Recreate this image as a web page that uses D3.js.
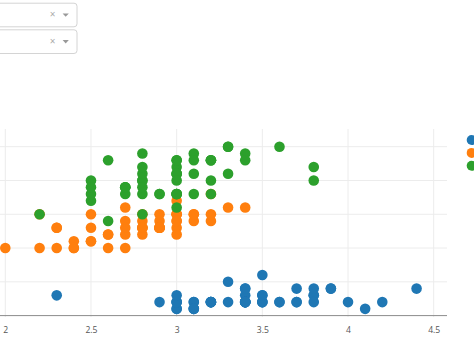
<!DOCTYPE html>
<html>
<head>
<meta charset="utf-8">
<script src="https://cdn.jsdelivr.net/npm/d3@7"></script>
<style>
  html, body { margin: 0; padding: 0; background: #fff; overflow: hidden; }
  svg { display: block; font-family: "Open Sans", Verdana, Arial, sans-serif; }
</style>
</head>
<body>
<svg id="chart" width="474" height="355"></svg>
<script>
// Iris data: x = sepal width, y = petal width
const species = ["setosa", "versicolor", "virginica"];
const colors = ["#1f77b4", "#ff7f0e", "#2ca02c"];

const setosaSepalWidth = [3.5,3.0,3.2,3.1,3.6,3.9,3.4,3.4,2.9,3.1,3.7,3.4,3.0,3.0,4.0,4.4,3.9,3.5,3.8,3.8,3.4,3.7,3.6,3.3,3.4,3.0,3.4,3.5,3.4,3.2,3.1,3.4,4.1,4.2,3.1,3.2,3.5,3.1,3.0,3.4,3.5,2.3,3.2,3.5,3.8,3.0,3.8,3.2,3.7,3.3];
const setosaPetalWidth = [0.2,0.2,0.2,0.2,0.2,0.4,0.3,0.2,0.2,0.1,0.2,0.2,0.1,0.1,0.2,0.4,0.4,0.3,0.3,0.3,0.2,0.4,0.2,0.5,0.2,0.2,0.4,0.2,0.2,0.2,0.2,0.4,0.1,0.2,0.1,0.2,0.2,0.1,0.2,0.2,0.3,0.3,0.2,0.6,0.4,0.3,0.2,0.2,0.2,0.2];

const versicolorSepalWidth = [3.2,3.2,3.1,2.3,2.8,2.8,3.3,2.4,2.9,2.7,2.0,3.0,2.2,2.9,2.9,3.1,3.0,2.7,2.2,2.5,3.2,2.8,2.5,2.8,2.9,3.0,2.8,3.0,2.9,2.6,2.4,2.4,2.7,2.7,3.0,3.4,3.1,2.3,3.0,2.5,2.6,3.0,2.6,2.3,2.7,3.0,2.9,2.9,2.5,2.8];
const versicolorPetalWidth = [1.4,1.5,1.5,1.3,1.5,1.3,1.6,1.0,1.3,1.4,1.0,1.5,1.0,1.4,1.3,1.4,1.5,1.0,1.5,1.1,1.8,1.3,1.5,1.2,1.3,1.4,1.4,1.7,1.5,1.0,1.1,1.0,1.2,1.6,1.5,1.6,1.5,1.3,1.3,1.3,1.2,1.4,1.2,1.0,1.3,1.2,1.3,1.3,1.1,1.3];

const virginicaSepalWidth = [3.3,2.7,3.0,2.9,3.0,3.0,2.5,2.9,2.5,3.6,3.2,2.7,3.0,2.5,2.8,3.2,3.0,3.8,2.6,2.2,3.2,2.8,2.8,2.7,3.3,3.2,2.8,3.0,2.8,3.0,2.8,3.8,2.8,2.8,2.6,3.0,3.4,3.1,3.0,3.1,3.1,3.1,2.7,3.2,3.3,3.0,2.5,3.0,3.4,3.0];
const virginicaPetalWidth = [2.5,1.9,2.1,1.8,2.2,2.1,1.7,1.8,1.8,2.5,2.0,1.9,2.1,2.0,2.4,2.3,1.8,2.2,2.3,1.5,2.3,2.0,2.0,1.8,2.1,1.8,1.8,1.8,2.1,1.6,1.9,2.0,2.2,1.5,1.4,2.3,2.4,1.8,1.8,2.1,2.4,2.3,1.9,2.3,2.5,2.3,1.9,2.0,2.3,1.8];

const xTicks = [2, 2.5, 3, 3.5, 4, 4.5];
const yGrid = [0.5, 1, 1.5, 2, 2.5];

const series = [
  {name: species[0], xs: setosaSepalWidth, ys: setosaPetalWidth, color: colors[0]},
  {name: species[1], xs: versicolorSepalWidth, ys: versicolorPetalWidth, color: colors[1]},
  {name: species[2], xs: virginicaSepalWidth, ys: virginicaPetalWidth, color: colors[2]}
];

const svg = d3.select("#chart");

// Plot area (left part is outside the visible window)
const plot = {left: -60, right: 447, top: 129, bottom: 317};
const x = d3.scaleLinear().domain([2, 4.5]).range([5.3, 433.7]);
const y = d3.scaleLinear().domain([0, 2.5]).range([315.6, 146.7]);

// Dropdowns
const dd = [{top: 2.7, bottom: 27.3}, {top: 29.3, bottom: 54}];
const ddg = svg.append("g");
dd.forEach(d => {
  const g = ddg.append("g");
  g.append("rect")
    .attr("x", -10).attr("y", d.top + 0.5)
    .attr("width", 87).attr("height", d.bottom - d.top - 1)
    .attr("rx", 3).attr("fill", "#fff")
    .attr("stroke", "#d4d4d4").attr("stroke-width", 1);
  const cy = (d.top + d.bottom) / 2;
  g.append("text")
    .attr("x", 52.7).attr("y", cy + 3.2)
    .attr("text-anchor", "middle")
    .attr("font-size", 10).attr("fill", "#aaa")
    .text("×");
  g.append("path")
    .attr("d", `M${62.6},${cy - 1.6} L${68.8},${cy - 1.6} L${65.7},${cy + 1.8} Z`)
    .attr("fill", "#999");
});

// Gridlines
const grid = svg.append("g");
grid.selectAll("line.v").data(xTicks).join("line")
  .attr("x1", d => x(d)).attr("x2", d => x(d))
  .attr("y1", plot.top).attr("y2", plot.bottom)
  .attr("stroke", "#ececec").attr("stroke-width", 1);
grid.selectAll("line.h").data(yGrid).join("line")
  .attr("x1", plot.left).attr("x2", plot.right)
  .attr("y1", d => y(d)).attr("y2", d => y(d))
  .attr("stroke", "#ececec").attr("stroke-width", 1);

// Zero line
svg.append("line")
  .attr("x1", plot.left).attr("x2", plot.right)
  .attr("y1", y(0)).attr("y2", y(0))
  .attr("stroke", "#8c8c8c").attr("stroke-width", 1);

// X axis labels via d3 axis
const xAxis = d3.axisBottom(x).tickValues(xTicks).tickSize(0).tickPadding(0)
  .tickFormat(d3.format("~g"));
const ax = svg.append("g").attr("transform", `translate(0, ${327})`).call(xAxis);
ax.select(".domain").remove();
ax.selectAll("text").attr("font-size", 8.6).attr("fill", "#555")
  .attr("font-family", "'Open Sans', Verdana, Arial, sans-serif");

// Points
const pts = svg.append("g");
series.forEach(s => {
  pts.append("g").selectAll("circle")
    .data(s.xs.map((v, i) => [v, s.ys[i]]))
    .join("circle")
    .attr("cx", d => x(d[0]))
    .attr("cy", d => y(d[1]))
    .attr("r", 5.3)
    .attr("fill", s.color);
});

// Legend markers (labels fall outside the visible window in the reference)
const legend = svg.append("g");
series.forEach((s, i) => {
  const ly = 140 + i * 12.9;
  legend.append("circle").attr("cx", 471.7).attr("cy", ly).attr("r", 5).attr("fill", s.color);
});
</script>
</body>
</html>
